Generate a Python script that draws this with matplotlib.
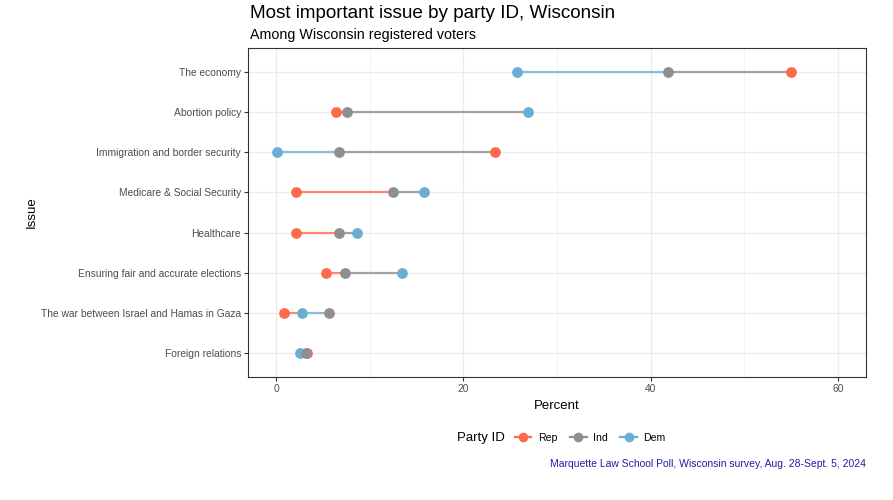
import numpy as np
import matplotlib.pyplot as plt
from matplotlib.lines import Line2D

plt.rcParams['font.family'] = ['Liberation Sans', 'DejaVu Sans']

# Data (percent)
issues = ["The economy", "Abortion policy", "Immigration and border security",
          "Medicare & Social Security", "Healthcare",
          "Ensuring fair and accurate elections",
          "The war between Israel and Hamas in Gaza", "Foreign relations"]
rep = [55.0, 6.4, 23.4, 2.1, 2.1, 5.3, 0.8, 3.3]
ind = [41.9, 7.6, 6.7, 12.5, 6.7, 7.4, 5.7, 3.2]
dem = [25.7, 26.9, 0.1, 15.8, 8.6, 13.4, 2.8, 2.5]

parties = ["Rep", "Ind", "Dem"]
colors = {"Rep": "#FF6A4D", "Ind": "#8F8F8F", "Dem": "#6AAED6"}
values = {"Rep": rep, "Ind": ind, "Dem": dem}

fig = plt.figure(figsize=(8.93, 5.0), dpi=100)
ax = fig.add_axes([248 / 893, 123 / 500, 618 / 893, 329 / 500])

n = len(issues)
ypos = np.arange(n)[::-1] + 1  # first issue on top

# segments: each coloured by the party at its left end
for i in range(n):
    pts = sorted((values[p][i], p) for p in parties)
    for (x0, p0), (x1, _) in zip(pts[:-1], pts[1:]):
        ax.plot([x0, x1], [ypos[i], ypos[i]], color=colors[p0], lw=1.6,
                alpha=0.8, zorder=2, solid_capstyle='butt')

for p in ["Dem", "Rep", "Ind"]:
    ax.scatter(values[p], ypos, s=60, color=colors[p], zorder=3, linewidths=0)

ax.set_xlim(-3, 63)
ax.set_ylim(0.4, n + 0.6)
ax.set_xticks([0, 20, 40, 60])
ax.set_xticks([10, 30, 50], minor=True)
ax.set_yticks(ypos)
ax.set_yticklabels(issues)
ax.grid(True, which='major', color='#EBEBEB', lw=1.0, zorder=0)
ax.grid(True, which='minor', axis='x', color='#F3F3F3', lw=0.6, zorder=0)
ax.set_axisbelow(True)
for s in ax.spines.values():
    s.set_color('#333333')
    s.set_linewidth(0.8)
ax.tick_params(axis='both', which='major', labelsize=7.4, labelcolor='#4D4D4D',
               color='#333333', length=3, width=0.8, pad=2)
ax.tick_params(axis='x', which='minor', length=0)
ax.set_xlabel("Percent", fontsize=9.5)
ax.set_ylabel("Issue", fontsize=9.5)
ax.xaxis.set_label_coords(0.5, -0.07)
ax.yaxis.set_label_coords(-(248 - 38) / 618, 0.5)

fig.text(250 / 893, 1 - 14 / 500, "Most important issue by party ID, Wisconsin",
         fontsize=13.6, va='center', ha='left')
fig.text(250 / 893, 1 - 35 / 500, "Among Wisconsin registered voters",
         fontsize=10.3, va='center', ha='left')

# legend
fig.text(457 / 893, 1 - 438 / 500, "Party ID", fontsize=9.5, va='center', ha='left')
handles = [Line2D([0], [0], color=colors[p], marker='o', markersize=7, lw=1.6,
                  markeredgewidth=0) for p in parties]
fig.legend(handles, parties, ncol=3, loc='center left',
           bbox_to_anchor=(505 / 893, 1 - 438 / 500), frameon=False,
           fontsize=7.6, handlelength=1.6, handletextpad=0.6, columnspacing=1.2)

fig.text(866 / 893, 1 - 464 / 500,
         "Marquette Law School Poll, Wisconsin survey, Aug. 28-Sept. 5, 2024",
         fontsize=7.5, color='#1F1FA8', va='center', ha='right')

fig.savefig("out.png", dpi=100)
